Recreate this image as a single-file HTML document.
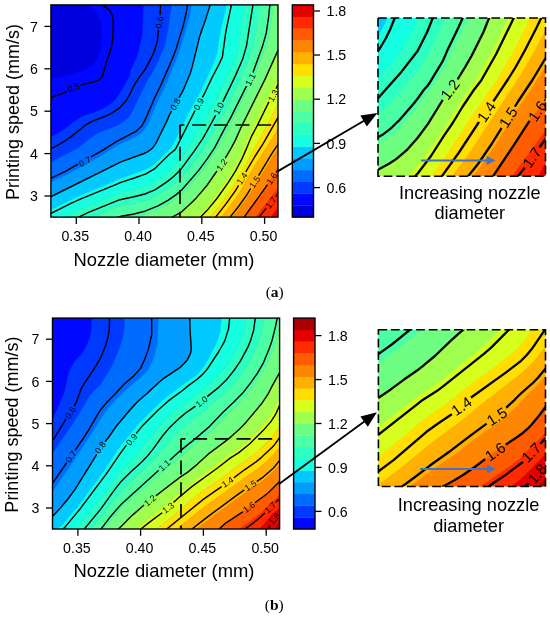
<!DOCTYPE html>
<html><head><meta charset="utf-8"><title>Figure</title><style>html,body{margin:0;padding:0;background:#fff}svg{display:block}</style></head><body>
<svg width="550" height="617" viewBox="0 0 550 617">
<rect width="550" height="617" fill="#fff"/>
<clipPath id="cpa"><rect x="50.9" y="4.9" width="227.1" height="212.2"/></clipPath>
<g clip-path="url(#cpa)" shape-rendering="geometricPrecision">
<rect x="50.9" y="4.9" width="227.1" height="212.2" fill="#0000de"/>
<path d="M50.9,3.9 86.9,3.9 88.9,5.9 93.9,9.6 96.3,11.9 97.7,13.9 100.2,18.9 101.0,20.9 101.7,23.9 102.3,35.9 100.9,47.9 98.7,55.9 97.9,57.9 95.9,60.9 91.9,65.4 89.9,66.9 84.5,69.9 79.9,71.9 62.9,76.6 52.9,78.9 49.9,80.0 49.9,3.9 50.9,3.9Z" fill="#0000de" stroke="#0000de" stroke-width="0.6"/>
<path d="M86.9,3.9 144.0,3.9 142.4,35.9 138.5,52.9 137.1,56.9 131.6,68.9 130.9,70.9 130.2,74.9 128.9,78.3 117.2,97.9 114.7,100.9 107.9,105.9 102.9,108.9 93.6,112.9 83.9,115.9 80.9,117.2 73.9,122.0 63.9,129.9 54.9,135.2 49.9,137.7 49.9,80.0 52.9,78.9 62.9,76.6 79.9,71.9 83.9,70.2 89.8,66.9 93.9,63.4 97.3,58.9 98.7,55.9 100.5,49.9 101.2,45.9 102.3,36.9 101.8,24.9 101.0,20.9 96.9,12.7 94.2,9.9 88.9,5.9 86.9,3.9Z" fill="#0008ff" stroke="#0008ff" stroke-width="0.6"/>
<path d="M144.9,3.9 172.1,3.9 168.6,28.9 166.2,40.9 164.8,45.9 158.6,60.9 153.9,70.1 147.1,81.9 130.7,114.9 129.3,116.9 127.1,118.9 122.9,122.2 116.9,125.9 108.9,129.3 100.9,132.0 97.9,133.5 91.9,137.3 76.9,148.9 49.9,163.0 49.9,137.7 54.9,135.2 63.9,129.9 73.9,122.0 80.9,117.2 83.9,115.9 91.9,113.5 95.9,112.0 103.9,108.4 107.9,105.9 113.5,101.9 115.9,99.6 122.9,88.7 129.1,77.9 130.2,74.9 130.9,70.9 131.6,68.9 137.1,56.9 138.8,51.9 142.4,35.9 144.0,3.9 144.9,3.9Z" fill="#003aff" stroke="#003aff" stroke-width="0.6"/>
<path d="M172.9,3.9 192.4,3.9 190.2,14.9 187.6,24.9 179.8,49.9 176.3,59.9 164.6,87.9 157.6,101.9 149.0,121.9 145.9,127.9 141.9,132.6 139.9,134.4 136.9,136.3 116.9,146.1 100.9,155.9 66.6,174.9 49.9,182.7 49.9,163.0 76.9,148.9 91.9,137.3 97.9,133.5 100.9,132.0 108.9,129.3 116.9,125.9 123.3,121.9 128.3,117.9 130.1,115.9 131.9,112.7 147.1,81.9 153.9,70.1 158.6,60.9 164.8,45.9 166.2,40.9 168.6,28.9 172.1,3.9 172.9,3.9Z" fill="#006cff" stroke="#006cff" stroke-width="0.6"/>
<path d="M192.9,3.9 210.5,3.9 206.1,17.9 199.8,35.9 191.4,69.9 188.4,77.9 182.9,90.9 170.9,112.0 164.2,126.9 157.2,140.9 153.9,146.3 150.5,149.9 145.9,152.6 119.9,162.2 49.9,197.2 49.9,182.7 66.6,174.9 100.9,155.9 116.9,146.1 136.9,136.3 140.9,133.5 144.9,129.3 148.1,123.9 157.6,101.9 164.6,87.9 175.9,61.0 179.5,50.9 187.0,26.9 190.2,14.9 192.4,3.9 192.9,3.9Z" fill="#009cff" stroke="#009cff" stroke-width="0.6"/>
<path d="M210.9,3.9 227.2,3.9 220.5,32.9 216.6,55.9 212.7,65.9 201.0,90.9 189.0,112.9 175.2,140.9 171.7,146.9 154.9,163.6 151.9,166.1 146.9,169.0 140.9,171.7 119.9,178.8 108.7,183.9 76.9,197.1 49.9,210.4 49.9,197.2 119.9,162.2 145.9,152.6 150.5,149.9 153.4,146.9 155.9,143.2 158.2,138.9 165.1,124.9 170.9,112.0 182.9,90.9 188.0,78.9 191.4,69.9 199.9,35.6 206.1,17.9 210.5,3.9 210.9,3.9Z" fill="#00caff" stroke="#00caff" stroke-width="0.6"/>
<path d="M227.9,3.9 245.0,3.9 239.0,43.9 236.5,54.9 234.0,61.9 230.9,69.1 212.9,105.6 196.0,135.9 185.9,151.9 180.9,158.6 173.3,166.9 164.5,174.9 156.9,180.5 149.9,184.4 140.9,187.8 122.9,192.4 116.9,194.3 83.9,207.6 62.7,217.9 49.9,217.9 49.9,210.4 50.9,209.9 76.9,197.1 108.7,183.9 118.9,179.2 141.9,171.3 149.9,167.4 152.9,165.3 155.9,162.7 171.7,146.9 175.2,140.9 189.0,112.9 200.5,91.9 212.3,66.9 215.2,59.9 217.3,52.9 219.5,37.9 221.1,29.9 227.2,3.9 227.9,3.9Z" fill="#14ffe1" stroke="#14ffe1" stroke-width="0.6"/>
<path d="M245.9,3.9 260.0,3.9 258.0,20.9 255.6,34.9 252.8,46.9 248.7,59.9 242.7,74.9 227.9,105.3 222.4,115.9 209.2,139.9 205.9,145.3 200.9,152.6 184.9,173.7 176.9,182.0 168.2,188.9 157.9,195.4 147.9,199.9 138.9,202.5 122.9,205.7 117.9,207.1 108.9,210.5 91.8,217.9 62.7,217.9 83.9,207.6 116.9,194.3 122.9,192.4 140.9,187.8 145.9,186.1 150.9,183.9 157.9,179.8 164.5,174.9 172.9,167.3 179.9,159.8 185.3,152.9 194.1,138.9 208.9,112.9 216.3,98.9 233.2,63.9 236.2,55.9 238.3,47.9 245.0,3.9 245.9,3.9Z" fill="#2dffc3" stroke="#2dffc3" stroke-width="0.6"/>
<path d="M260.9,3.9 273.5,3.9 271.6,19.9 269.8,31.9 268.4,37.9 265.2,47.9 253.5,78.9 247.9,89.4 231.9,121.3 215.9,151.1 208.9,161.5 199.9,173.6 185.0,190.9 178.9,196.5 173.9,200.3 167.9,204.1 159.9,208.6 153.9,211.3 144.9,214.6 131.7,217.9 91.8,217.9 108.9,210.5 117.9,207.1 122.9,205.7 134.9,203.4 142.9,201.5 148.9,199.5 155.9,196.4 164.9,191.1 173.9,184.5 180.9,178.1 187.2,170.9 201.9,151.2 208.6,140.9 225.1,110.9 243.1,73.9 249.0,58.9 253.4,44.9 256.9,27.8 260.0,3.9 260.9,3.9Z" fill="#4bffa5" stroke="#4bffa5" stroke-width="0.6"/>
<path d="M273.9,3.9 278.9,3.9 278.9,48.2 264.3,80.9 241.3,126.9 235.9,139.2 230.7,148.9 221.3,164.9 206.9,185.5 199.1,194.9 188.9,205.3 182.8,210.9 179.9,213.1 170.8,217.9 131.7,217.9 145.9,214.3 156.9,210.0 168.3,203.9 177.9,197.3 184.9,191.0 198.9,174.9 207.2,163.9 213.9,154.3 217.7,147.9 231.6,121.9 254.3,76.9 265.2,47.9 268.7,36.9 270.1,29.9 271.6,19.9 273.2,5.9 273.5,3.9 273.9,3.9Z" fill="#6eff82" stroke="#6eff82" stroke-width="0.6"/>
<path d="M278.9,48.2 278.9,76.2 270.2,93.9 265.8,101.9 255.5,122.9 249.2,134.9 240.2,156.9 234.9,167.3 231.9,172.5 217.9,192.9 209.9,203.1 205.9,207.8 200.9,212.9 195.1,217.9 170.8,217.9 178.9,213.6 181.6,211.9 189.3,204.9 197.3,196.9 206.6,185.9 213.1,176.9 221.9,163.9 230.7,148.9 235.9,139.2 241.3,126.9 264.3,80.9 278.9,48.2Z" fill="#a0ff4e" stroke="#a0ff4e" stroke-width="0.6"/>
<path d="M278.9,76.2 278.9,102.4 262.9,132.9 246.6,162.9 234.1,184.9 229.9,191.5 223.8,199.9 209.6,217.9 195.1,217.9 201.9,211.9 206.9,206.7 210.9,201.9 215.9,195.6 222.9,185.8 232.9,170.9 240.7,155.9 249.2,134.9 255.5,122.9 265.8,101.9 270.2,93.9 278.9,76.2Z" fill="#d7ff1e" stroke="#d7ff1e" stroke-width="0.6"/>
<path d="M278.9,102.4 278.9,127.6 273.3,136.9 257.9,160.9 248.9,175.7 240.1,191.9 235.9,198.2 228.5,207.9 220.6,217.9 209.6,217.9 223.1,200.9 229.6,191.9 233.9,185.3 246.6,162.9 262.9,132.9 278.9,102.4Z" fill="#ffde00" stroke="#ffde00" stroke-width="0.6"/>
<path d="M278.9,127.6 278.9,148.0 273.9,155.4 251.5,191.9 242.4,204.9 232.4,217.9 220.6,217.9 232.4,202.9 238.8,193.9 241.9,188.9 246.5,179.9 249.9,174.1 257.9,160.9 270.3,141.9 278.9,127.6Z" fill="#ffb000" stroke="#ffb000" stroke-width="0.6"/>
<path d="M278.9,148.0 278.9,168.2 258.1,197.9 243.5,217.9 232.4,217.9 241.7,205.9 250.2,193.9 274.2,154.9 278.9,148.0Z" fill="#ff8600" stroke="#ff8600" stroke-width="0.6"/>
<path d="M278.9,168.2 278.9,187.4 255.2,217.9 243.5,217.9 258.1,197.9 278.9,168.2Z" fill="#ff5c00" stroke="#ff5c00" stroke-width="0.6"/>
<path d="M278.9,187.4 278.9,207.7 270.4,217.9 255.2,217.9 278.9,187.4Z" fill="#ff2a00" stroke="#ff2a00" stroke-width="0.6"/>
<path d="M278.9,207.7 278.9,217.9 270.4,217.9 278.9,207.7Z" fill="#e40000" stroke="#e40000" stroke-width="0.6"/>
<mask id="mka" maskUnits="userSpaceOnUse" x="0" y="0" width="550" height="617"><rect x="0" y="0" width="550" height="617" fill="#fff"/><rect x="65.9" y="84.0" width="15.1" height="7.0" fill="#000" transform="rotate(-20.0 73.5 87.5)"/><rect x="151.7" y="19.0" width="15.1" height="7.0" fill="#000" transform="rotate(-80.0 159.3 22.5)"/><rect x="77.4" y="158.0" width="15.1" height="7.0" fill="#000" transform="rotate(-28.0 85.0 161.5)"/><rect x="167.6" y="100.7" width="15.1" height="7.0" fill="#000" transform="rotate(-60.0 175.2 104.2)"/><rect x="191.1" y="100.5" width="15.1" height="7.0" fill="#000" transform="rotate(-60.0 198.7 104.0)"/><rect x="211.0" y="104.8" width="15.1" height="7.0" fill="#000" transform="rotate(-62.0 218.6 108.3)"/><rect x="242.7" y="76.0" width="15.1" height="7.0" fill="#000" transform="rotate(-63.0 250.3 79.5)"/><rect x="214.1" y="161.5" width="15.1" height="7.0" fill="#000" transform="rotate(-55.0 221.7 165.0)"/><rect x="265.4" y="92.0" width="15.1" height="7.0" fill="#000" transform="rotate(-62.0 273.0 95.5)"/><rect x="234.4" y="175.0" width="15.1" height="7.0" fill="#000" transform="rotate(-56.0 242.0 178.5)"/><rect x="247.0" y="178.5" width="15.1" height="7.0" fill="#000" transform="rotate(-56.0 254.6 182.0)"/><rect x="264.2" y="175.0" width="15.1" height="7.0" fill="#000" transform="rotate(-55.0 271.8 178.5)"/><rect x="263.4" y="199.0" width="15.1" height="7.0" fill="#000" transform="rotate(-52.0 271.0 202.5)"/></mask>
<g mask="url(#mka)" fill="none" stroke="#000" stroke-width="1.40" stroke-linejoin="round">
<path d="M49.9,98.5 52.5,96.9 59.9,94.5 64.9,92.3 73.9,87.3 85.9,83.6 92.9,82.1 99.1,79.9 100.9,78.5 102.0,76.9 103.9,71.9 106.1,62.9 110.0,51.9 111.9,44.7 112.6,39.9 113.2,22.9 113.1,19.9 112.5,15.9 110.7,11.9 108.9,9.7 101.4,3.9"/>
<path d="M49.9,149.4 57.9,145.2 65.9,140.3 71.9,136.1 85.9,124.8 91.0,121.9 104.9,116.3 110.9,113.6 113.9,111.7 119.9,107.6 125.9,100.8 129.9,94.3 133.3,86.9 135.6,82.9 140.2,75.9 144.9,69.8 148.7,62.9 153.9,52.5 157.2,41.9 157.5,39.9 160.1,14.9 160.6,3.9"/>
<path d="M49.9,178.7 64.9,171.7 102.9,150.1 115.9,141.8 135.9,131.4 141.9,125.9 145.6,118.9 154.9,97.3 160.1,86.9 172.3,58.9 175.9,49.6 183.2,25.9 186.2,12.9 187.7,3.9"/>
<path d="M49.9,197.2 120.9,161.8 143.9,153.5 146.9,152.1 150.9,149.5 152.6,147.9 154.9,144.8 156.9,141.4 166.9,120.9 169.9,113.9 182.9,90.9 190.4,72.9 191.9,67.9 199.8,35.9 206.1,17.9 210.5,3.9"/>
<path d="M49.9,213.9 70.9,203.3 80.9,198.8 113.9,185.4 120.9,182.3 132.9,178.5 145.9,173.9 154.9,168.6 169.9,153.7 174.9,149.9 175.9,148.4 194.9,110.8 204.9,92.8 211.9,77.9 218.9,64.5 222.4,56.9 225.8,31.9 231.6,3.9"/>
<path d="M77.1,217.9 87.9,212.6 119.9,199.7 133.9,196.8 144.9,194.0 154.9,189.8 166.9,181.9 173.9,176.2 181.2,168.9 194.4,150.9 202.9,138.4 204.9,134.9 221.4,104.9 234.9,76.9 240.2,64.9 243.0,57.9 246.5,45.9 253.1,3.9"/>
<path d="M115.8,217.9 120.9,216.3 132.9,214.2 144.9,211.2 158.1,205.9 167.9,200.3 175.9,194.9 181.9,189.8 198.3,170.9 207.2,158.9 214.6,147.9 223.9,129.9 230.6,117.9 245.1,88.9 251.0,77.9 262.6,45.9 266.3,32.9 268.6,16.9 270.0,3.9"/>
<path d="M170.8,217.9 180.9,212.4 189.9,204.3 196.3,197.9 206.9,185.5 221.9,163.9 231.3,147.9 235.5,139.9 240.9,127.8 265.2,78.9 278.9,48.2"/>
<path d="M199.7,217.9 206.9,210.6 216.9,198.5 228.0,182.9 235.6,170.9 241.9,158.9 246.9,147.6 251.2,136.9 257.6,124.9 268.9,101.9 273.0,94.9 278.9,82.4"/>
<path d="M215.0,217.9 226.0,203.9 235.3,190.9 238.9,184.8 242.2,177.9 254.9,156.5 263.0,143.9 278.9,115.9"/>
<path d="M229.5,217.9 238.9,206.0 246.8,194.9 272.3,152.9 278.9,143.2"/>
<path d="M243.5,217.9 258.1,197.9 278.9,168.2"/>
<path d="M258.5,217.9 278.9,192.3"/>
</g>
<text x="73.5" y="90.7" font-family="Liberation Sans, Arial, sans-serif" font-size="8.8" text-anchor="middle" transform="rotate(-20.0 73.5 87.5)">0.5</text>
<text x="159.3" y="25.7" font-family="Liberation Sans, Arial, sans-serif" font-size="8.8" text-anchor="middle" transform="rotate(-80.0 159.3 22.5)">0.6</text>
<text x="85.0" y="164.7" font-family="Liberation Sans, Arial, sans-serif" font-size="8.8" text-anchor="middle" transform="rotate(-28.0 85.0 161.5)">0.7</text>
<text x="175.2" y="107.4" font-family="Liberation Sans, Arial, sans-serif" font-size="8.8" text-anchor="middle" transform="rotate(-60.0 175.2 104.2)">0.8</text>
<text x="198.7" y="107.2" font-family="Liberation Sans, Arial, sans-serif" font-size="8.8" text-anchor="middle" transform="rotate(-60.0 198.7 104.0)">0.9</text>
<text x="218.6" y="111.5" font-family="Liberation Sans, Arial, sans-serif" font-size="8.8" text-anchor="middle" transform="rotate(-62.0 218.6 108.3)">1.0</text>
<text x="250.3" y="82.7" font-family="Liberation Sans, Arial, sans-serif" font-size="8.8" text-anchor="middle" transform="rotate(-63.0 250.3 79.5)">1.1</text>
<text x="221.7" y="168.2" font-family="Liberation Sans, Arial, sans-serif" font-size="8.8" text-anchor="middle" transform="rotate(-55.0 221.7 165.0)">1.2</text>
<text x="273.0" y="98.7" font-family="Liberation Sans, Arial, sans-serif" font-size="8.8" text-anchor="middle" transform="rotate(-62.0 273.0 95.5)">1.3</text>
<text x="242.0" y="181.7" font-family="Liberation Sans, Arial, sans-serif" font-size="8.8" text-anchor="middle" transform="rotate(-56.0 242.0 178.5)">1.4</text>
<text x="254.6" y="185.2" font-family="Liberation Sans, Arial, sans-serif" font-size="8.8" text-anchor="middle" transform="rotate(-56.0 254.6 182.0)">1.5</text>
<text x="271.8" y="181.7" font-family="Liberation Sans, Arial, sans-serif" font-size="8.8" text-anchor="middle" transform="rotate(-55.0 271.8 178.5)">1.6</text>
<text x="271.0" y="205.7" font-family="Liberation Sans, Arial, sans-serif" font-size="8.8" text-anchor="middle" transform="rotate(-52.0 271.0 202.5)">1.7</text>
<path d="M180.0,125.0H278.0" stroke="#000" stroke-width="1.7" stroke-dasharray="14 7.7" stroke-dashoffset="9.6" fill="none"/>
<path d="M180.0,125.0V217.1" stroke="#000" stroke-width="1.7" stroke-dasharray="14 7.7" fill="none"/>
</g>
<rect x="50.9" y="4.9" width="227.1" height="212.2" fill="none" stroke="#000" stroke-width="1.4"/>
<path d="M44.4,26.4H50.9" stroke="#000" stroke-width="1.3"/>
<text x="37.9" y="31.5" font-family="Liberation Sans, Arial, sans-serif" font-size="14.2" text-anchor="end">7</text>
<path d="M44.4,68.8H50.9" stroke="#000" stroke-width="1.3"/>
<text x="37.9" y="73.9" font-family="Liberation Sans, Arial, sans-serif" font-size="14.2" text-anchor="end">6</text>
<path d="M44.4,111.2H50.9" stroke="#000" stroke-width="1.3"/>
<text x="37.9" y="116.3" font-family="Liberation Sans, Arial, sans-serif" font-size="14.2" text-anchor="end">5</text>
<path d="M44.4,153.6H50.9" stroke="#000" stroke-width="1.3"/>
<text x="37.9" y="158.7" font-family="Liberation Sans, Arial, sans-serif" font-size="14.2" text-anchor="end">4</text>
<path d="M44.4,196.0H50.9" stroke="#000" stroke-width="1.3"/>
<text x="37.9" y="201.1" font-family="Liberation Sans, Arial, sans-serif" font-size="14.2" text-anchor="end">3</text>
<path d="M76.3,217.1V223.9" stroke="#000" stroke-width="1.3"/>
<text x="75.3" y="240.7" font-family="Liberation Sans, Arial, sans-serif" font-size="14.2" text-anchor="middle">0.35</text>
<path d="M139.0,217.1V223.9" stroke="#000" stroke-width="1.3"/>
<text x="138.0" y="240.7" font-family="Liberation Sans, Arial, sans-serif" font-size="14.2" text-anchor="middle">0.40</text>
<path d="M201.8,217.1V223.9" stroke="#000" stroke-width="1.3"/>
<text x="200.8" y="240.7" font-family="Liberation Sans, Arial, sans-serif" font-size="14.2" text-anchor="middle">0.45</text>
<path d="M264.6,217.1V223.9" stroke="#000" stroke-width="1.3"/>
<text x="263.6" y="240.7" font-family="Liberation Sans, Arial, sans-serif" font-size="14.2" text-anchor="middle">0.50</text>
<text x="163.9" y="265.7" font-family="Liberation Sans, Arial, sans-serif" font-size="18.4" text-anchor="middle">Nozzle diameter (mm)</text>
<text x="18.9" y="112.0" font-family="Liberation Sans, Arial, sans-serif" font-size="18" text-anchor="middle" transform="rotate(-90 18.9 112.0)">Printing speed (mm/s)</text>
<rect x="292.3" y="205.31" width="21.2" height="12.09" fill="#0000de"/>
<rect x="292.3" y="193.52" width="21.2" height="12.09" fill="#0008ff"/>
<rect x="292.3" y="181.73" width="21.2" height="12.09" fill="#003aff"/>
<rect x="292.3" y="169.94" width="21.2" height="12.09" fill="#006cff"/>
<rect x="292.3" y="158.16" width="21.2" height="12.09" fill="#009cff"/>
<rect x="292.3" y="146.37" width="21.2" height="12.09" fill="#00caff"/>
<rect x="292.3" y="134.58" width="21.2" height="12.09" fill="#14ffe1"/>
<rect x="292.3" y="122.79" width="21.2" height="12.09" fill="#2dffc3"/>
<rect x="292.3" y="111.00" width="21.2" height="12.09" fill="#4bffa5"/>
<rect x="292.3" y="99.21" width="21.2" height="12.09" fill="#6eff82"/>
<rect x="292.3" y="87.42" width="21.2" height="12.09" fill="#a0ff4e"/>
<rect x="292.3" y="75.63" width="21.2" height="12.09" fill="#d7ff1e"/>
<rect x="292.3" y="63.84" width="21.2" height="12.09" fill="#ffde00"/>
<rect x="292.3" y="52.06" width="21.2" height="12.09" fill="#ffb000"/>
<rect x="292.3" y="40.27" width="21.2" height="12.09" fill="#ff8600"/>
<rect x="292.3" y="28.48" width="21.2" height="12.09" fill="#ff5c00"/>
<rect x="292.3" y="16.69" width="21.2" height="12.09" fill="#ff2a00"/>
<rect x="292.3" y="4.90" width="21.2" height="12.09" fill="#e40000"/>
<rect x="292.3" y="4.9" width="21.2" height="212.2" fill="none" stroke="#000" stroke-width="1.4"/>
<path d="M313.5,11.0H320.0" stroke="#000" stroke-width="1.3"/>
<text x="326.5" y="16.1" font-family="Liberation Sans, Arial, sans-serif" font-size="14.2">1.8</text>
<path d="M313.5,55.0H320.0" stroke="#000" stroke-width="1.3"/>
<text x="326.5" y="60.1" font-family="Liberation Sans, Arial, sans-serif" font-size="14.2">1.5</text>
<path d="M313.5,99.2H320.0" stroke="#000" stroke-width="1.3"/>
<text x="326.5" y="104.3" font-family="Liberation Sans, Arial, sans-serif" font-size="14.2">1.2</text>
<path d="M313.5,143.4H320.0" stroke="#000" stroke-width="1.3"/>
<text x="326.5" y="148.5" font-family="Liberation Sans, Arial, sans-serif" font-size="14.2">0.9</text>
<path d="M313.5,187.6H320.0" stroke="#000" stroke-width="1.3"/>
<text x="326.5" y="192.7" font-family="Liberation Sans, Arial, sans-serif" font-size="14.2">0.6</text>
<clipPath id="cia"><rect x="378.0" y="18.0" width="167.5" height="158.2"/></clipPath>
<g clip-path="url(#cia)">
<rect x="378.0" y="18.0" width="167.5" height="158.2" fill="#14ffe1"/>
<path d="M377.0,16.0 388.6,16.0 386.0,21.9 376.0,40.8 376.0,16.0 377.0,16.0Z" fill="#00caff" stroke="#00caff" stroke-width="0.6"/>
<path d="M389.0,16.0 419.5,16.0 410.5,36.0 407.4,42.0 403.8,48.0 397.5,57.0 391.3,65.0 376.0,82.2 376.0,40.8 386.0,21.9 388.6,16.0 389.0,16.0Z" fill="#14ffe1" stroke="#14ffe1" stroke-width="0.6"/>
<path d="M420.0,16.0 446.0,16.0 438.8,33.0 430.5,51.0 426.7,58.0 422.1,65.0 412.3,78.0 397.0,96.2 385.2,109.0 376.0,117.2 376.0,82.2 391.0,65.3 397.5,57.0 403.1,49.0 409.0,39.0 414.0,28.6 419.5,16.0 420.0,16.0Z" fill="#2dffc3" stroke="#2dffc3" stroke-width="0.6"/>
<path d="M446.0,16.1 469.2,16.0 463.5,29.0 453.6,49.0 446.6,64.0 440.6,74.0 432.2,87.0 426.8,94.0 418.0,106.4 407.0,119.9 399.5,128.0 392.0,134.8 386.0,139.2 376.0,145.1 376.0,117.2 385.2,109.0 396.3,97.0 412.0,78.4 422.0,65.2 426.7,58.0 430.5,51.0 438.8,33.0 446.0,16.1Z" fill="#4bffa5" stroke="#4bffa5" stroke-width="0.6"/>
<path d="M469.0,16.6 469.2,16.0 489.9,16.0 485.2,28.0 482.5,34.0 472.0,55.0 463.4,70.0 457.0,80.3 443.3,99.0 428.0,123.9 415.0,141.0 406.0,150.8 397.0,158.4 388.5,164.0 376.0,170.8 376.0,145.1 389.1,137.0 395.0,132.2 401.0,126.5 407.8,119.0 415.0,110.2 421.0,102.3 426.8,94.0 432.0,87.3 441.3,73.0 447.1,63.0 453.6,49.0 463.9,28.0 469.0,16.6Z" fill="#6eff82" stroke="#6eff82" stroke-width="0.6"/>
<path d="M490.0,16.0 509.5,16.0 502.7,31.0 492.9,51.0 479.0,76.0 476.4,80.0 469.6,89.0 460.0,103.1 447.2,124.0 428.0,152.9 415.0,169.5 411.0,173.7 406.0,178.0 376.0,178.0 376.0,170.8 387.0,164.9 393.3,161.0 397.5,158.0 404.0,152.6 408.0,148.8 416.0,139.9 427.0,125.3 434.0,114.5 443.3,99.0 457.2,80.0 466.3,65.0 472.5,54.0 483.0,33.0 490.0,16.0Z" fill="#a0ff4e" stroke="#a0ff4e" stroke-width="0.6"/>
<path d="M510.0,16.0 531.2,16.0 521.5,36.0 511.1,56.0 504.9,67.0 495.7,82.0 472.1,116.0 446.7,155.0 430.4,178.0 406.0,178.0 411.0,173.7 415.0,169.5 427.9,153.0 447.2,124.0 460.1,103.0 470.0,88.4 478.0,77.6 491.9,53.0 502.7,31.0 509.5,16.0 510.0,16.0Z" fill="#d7ff1e" stroke="#d7ff1e" stroke-width="0.6"/>
<path d="M531.0,16.3 531.2,16.0 547.0,16.0 547.0,27.9 536.4,48.0 521.4,74.0 494.0,116.3 471.7,150.0 464.6,160.0 450.8,178.0 430.4,178.0 446.7,155.0 472.0,116.2 493.0,86.0 498.2,78.0 506.0,65.0 512.1,54.0 522.0,35.0 531.0,16.3Z" fill="#ffde00" stroke="#ffde00" stroke-width="0.6"/>
<path d="M547.0,27.9 547.0,64.2 535.5,83.0 518.0,109.1 498.3,141.0 490.0,153.6 480.8,167.0 472.0,178.0 450.8,178.0 464.6,160.0 471.7,150.0 518.9,78.0 525.0,68.0 534.2,52.0 547.0,27.9Z" fill="#ffb000" stroke="#ffb000" stroke-width="0.6"/>
<path d="M547.0,64.2 547.0,97.8 538.8,109.0 529.0,121.5 514.6,144.0 491.9,178.0 472.0,178.0 481.5,166.0 494.0,147.6 518.0,109.1 536.2,82.0 547.0,64.2Z" fill="#ff8600" stroke="#ff8600" stroke-width="0.6"/>
<path d="M547.0,97.8 547.0,128.5 536.1,144.0 515.0,172.3 511.1,178.0 491.9,178.0 514.6,144.0 529.0,121.5 538.8,109.0 547.0,97.8Z" fill="#ff5c00" stroke="#ff5c00" stroke-width="0.6"/>
<path d="M547.0,128.5 547.0,160.7 538.5,176.0 537.0,178.0 511.1,178.0 515.0,172.3 536.1,144.0 547.0,128.5Z" fill="#ff2a00" stroke="#ff2a00" stroke-width="0.6"/>
<path d="M547.0,160.7 547.0,178.0 537.0,178.0 539.2,175.0 544.4,165.0 547.0,160.7Z" fill="#e40000" stroke="#e40000" stroke-width="0.6"/>
<mask id="mia" maskUnits="userSpaceOnUse" x="0" y="0" width="550" height="617"><rect x="0" y="0" width="550" height="617" fill="#fff"/><rect x="437.4" y="83.5" width="25.2" height="12.0" fill="#000" transform="rotate(-53.0 450.0 89.5)"/><rect x="473.8" y="105.8" width="25.2" height="12.0" fill="#000" transform="rotate(-56.0 486.4 111.8)"/><rect x="495.6" y="111.3" width="25.2" height="12.0" fill="#000" transform="rotate(-57.0 508.2 117.3)"/><rect x="524.7" y="105.0" width="25.2" height="12.0" fill="#000" transform="rotate(-56.0 537.3 111.0)"/><rect x="519.2" y="151.3" width="25.2" height="12.0" fill="#000" transform="rotate(-55.0 531.8 157.3)"/></mask>
<g mask="url(#mia)" fill="none" stroke="#000" stroke-width="2.30" stroke-linejoin="round">
<path d="M376.0,53.8 380.1,48.0 386.0,38.0 390.3,29.0 395.6,16.0"/>
<path d="M376.0,100.5 400.0,73.6 417.6,51.0 427.2,32.0 433.6,16.0"/>
<path d="M376.0,138.4 383.0,134.4 388.0,130.7 392.0,127.3 399.5,120.0 414.2,103.0 418.1,98.0 423.7,90.0 427.4,86.0 429.0,83.8 443.0,60.6 448.0,48.9 458.2,28.0 463.6,16.0"/>
<path d="M376.0,170.8 389.0,163.7 394.0,160.6 397.0,158.4 405.0,151.7 408.0,148.8 417.5,138.0 428.0,123.9 443.3,99.0 457.2,80.0 465.2,67.0 471.5,56.0 483.5,32.0 489.9,16.0"/>
<path d="M413.4,178.0 418.1,173.0 431.0,156.0 444.0,135.7 452.7,123.0 462.4,107.0 473.8,90.0 481.0,80.8 496.2,54.0 514.7,16.0"/>
<path d="M440.6,178.0 458.6,153.0 480.3,120.0 488.0,109.3 508.2,79.0 515.1,68.0 525.1,50.0 536.4,28.0 542.1,16.0"/>
<path d="M466.6,178.0 478.0,164.0 492.3,143.0 518.4,101.0 532.4,80.0 547.0,55.7"/>
<path d="M491.9,178.0 515.0,143.4 530.0,120.1 538.8,109.0 547.0,97.8"/>
<path d="M516.5,178.0 525.0,167.4 531.4,158.0 539.8,147.0 547.0,136.8"/>
</g>
<text x="450.0" y="94.9" font-family="Liberation Sans, Arial, sans-serif" font-size="15.0" text-anchor="middle" transform="rotate(-53.0 450.0 89.5)">1.2</text>
<text x="486.4" y="117.2" font-family="Liberation Sans, Arial, sans-serif" font-size="15.0" text-anchor="middle" transform="rotate(-56.0 486.4 111.8)">1.4</text>
<text x="508.2" y="122.7" font-family="Liberation Sans, Arial, sans-serif" font-size="15.0" text-anchor="middle" transform="rotate(-57.0 508.2 117.3)">1.5</text>
<text x="537.3" y="116.4" font-family="Liberation Sans, Arial, sans-serif" font-size="15.0" text-anchor="middle" transform="rotate(-56.0 537.3 111.0)">1.6</text>
<text x="531.8" y="162.7" font-family="Liberation Sans, Arial, sans-serif" font-size="15.0" text-anchor="middle" transform="rotate(-55.0 531.8 157.3)">1.7</text>
</g>
<rect x="378.0" y="18.0" width="167.5" height="158.2" fill="none" stroke="#000" stroke-width="1.6" stroke-dasharray="8.7 3.9" stroke-dashoffset="0"/>
<path d="M421.0,160.5H489.5" stroke="#4472c4" stroke-width="2.1" fill="none"/>
<path d="M495.5,160.5L486.5,155.9L486.5,165.1Z" fill="#4472c4"/>
<path d="M277.6,171.4L365.3,120.0" stroke="#000" stroke-width="1.8" fill="none"/>
<path d="M377.4,112.9L366.8,126.4L360.4,115.6Z" fill="#000"/>
<text x="469.8" y="198.5" font-family="Liberation Sans, Arial, sans-serif" font-size="18.2" text-anchor="middle">Increasing nozzle</text>
<text x="469.8" y="218.9" font-family="Liberation Sans, Arial, sans-serif" font-size="18.2" text-anchor="middle">diameter</text>
<text x="274.7" y="296.8" font-family="Liberation Serif, Times New Roman, serif" font-size="15.5" text-anchor="middle">(<tspan font-weight="bold">a</tspan>)</text>
<clipPath id="cpb"><rect x="52.5" y="318.1" width="227.1" height="210.9"/></clipPath>
<g clip-path="url(#cpb)" shape-rendering="geometricPrecision">
<rect x="52.5" y="318.1" width="227.1" height="210.9" fill="#0008ff"/>
<path d="M52.5,317.1 92.2,317.1 92.2,318.1 91.4,332.1 90.7,335.1 88.4,342.1 86.6,346.1 82.7,353.1 74.4,362.1 70.0,370.1 68.5,374.1 65.5,389.1 63.9,394.1 58.4,407.1 51.5,422.4 51.5,317.1 52.5,317.1Z" fill="#0008ff" stroke="#0008ff" stroke-width="0.6"/>
<path d="M92.5,317.1 125.1,317.1 124.1,332.1 121.5,343.1 114.8,360.1 111.8,367.1 109.5,371.1 100.2,385.1 94.5,390.6 89.5,396.4 81.7,410.1 72.2,425.1 62.8,439.1 51.5,455.0 51.5,422.4 58.4,407.1 63.9,394.1 65.5,389.1 68.5,374.1 70.0,370.1 74.4,362.1 82.7,353.1 86.6,346.1 88.4,342.1 90.7,335.1 91.4,332.1 92.2,317.1 92.5,317.1Z" fill="#003aff" stroke="#003aff" stroke-width="0.6"/>
<path d="M125.5,317.1 158.7,317.1 157.7,343.1 156.7,348.1 153.7,359.1 149.4,368.1 146.5,372.1 138.2,380.1 124.5,391.1 111.2,405.1 105.4,412.1 102.0,417.1 91.5,434.1 72.5,463.0 51.5,493.5 51.5,455.0 62.8,439.1 72.2,425.1 81.7,410.1 89.5,396.4 94.5,390.6 98.4,387.1 100.5,384.7 111.3,368.1 116.1,357.1 120.5,346.1 121.8,342.1 124.0,333.1 125.1,317.1 125.5,317.1Z" fill="#006cff" stroke="#006cff" stroke-width="0.6"/>
<path d="M159.5,317.1 189.7,317.1 190.2,333.1 191.1,343.1 191.3,349.1 190.6,353.1 188.5,357.8 186.4,361.1 180.6,367.1 164.5,377.8 161.5,380.2 146.5,393.9 138.5,400.7 129.8,410.1 115.6,427.1 107.5,438.8 100.6,447.1 94.6,458.1 73.5,491.6 65.5,502.1 57.5,511.4 51.5,517.6 51.5,493.5 72.5,463.0 92.2,433.1 102.5,416.3 106.2,411.1 111.2,405.1 123.5,392.1 140.4,378.1 146.5,372.1 149.4,368.1 154.1,358.1 157.2,346.1 157.8,341.1 158.7,317.1 159.5,317.1Z" fill="#009cff" stroke="#009cff" stroke-width="0.6"/>
<path d="M190.5,317.1 221.7,317.1 220.9,330.1 217.2,342.1 211.4,354.1 204.5,366.1 200.5,371.5 197.9,374.1 166.5,397.3 155.4,407.1 140.5,421.9 127.5,437.3 121.5,444.8 115.7,453.1 102.6,473.1 75.1,510.1 63.5,523.8 59.5,527.8 56.7,530.1 51.5,530.1 51.5,517.6 57.5,511.4 65.5,502.1 73.8,491.1 95.2,457.1 100.5,447.3 107.5,438.8 116.4,426.1 130.5,409.3 138.5,400.7 146.5,393.9 162.5,379.4 180.6,367.1 185.5,362.1 187.5,359.5 189.8,355.1 191.2,350.1 191.1,343.1 190.2,333.1 189.7,319.1 189.7,317.1 190.5,317.1Z" fill="#00caff" stroke="#00caff" stroke-width="0.6"/>
<path d="M222.5,317.1 246.2,317.1 245.5,324.1 244.4,330.1 242.8,336.1 240.6,342.1 237.8,348.1 234.4,354.1 230.5,360.1 225.4,367.1 218.8,375.1 211.7,382.1 192.5,397.7 176.0,410.1 168.5,416.8 161.3,424.1 154.5,432.1 140.7,450.1 124.5,467.7 115.5,478.1 95.9,505.1 75.2,530.1 56.7,530.1 62.5,524.9 77.5,507.1 102.6,473.1 115.7,453.1 121.5,444.8 139.5,423.0 154.4,408.1 165.5,398.1 186.9,382.1 195.5,376.1 199.0,373.1 200.9,371.1 205.1,365.1 209.7,357.1 217.2,342.1 220.7,331.1 221.7,317.1 222.5,317.1Z" fill="#14ffe1" stroke="#14ffe1" stroke-width="0.6"/>
<path d="M246.5,317.1 264.4,317.1 262.6,328.1 261.0,335.1 258.8,342.1 255.7,350.1 252.4,357.1 247.8,365.1 243.1,372.1 237.5,379.6 231.5,386.5 224.5,393.3 202.5,412.6 185.5,426.0 174.5,436.2 168.5,442.9 158.4,455.1 152.9,461.1 145.5,468.3 127.5,485.0 121.5,491.3 113.5,500.7 90.5,530.1 75.2,530.1 95.9,505.1 115.5,478.1 124.5,467.7 140.7,450.1 154.5,432.1 161.3,424.1 168.5,416.8 176.0,410.1 192.5,397.7 211.5,382.3 217.8,376.1 223.5,369.5 228.5,363.0 233.1,356.1 237.2,349.1 240.1,343.1 242.5,337.1 244.2,331.1 245.4,325.1 246.2,317.1 246.5,317.1Z" fill="#2dffc3" stroke="#2dffc3" stroke-width="0.6"/>
<path d="M264.5,317.1 280.5,317.1 280.5,323.3 275.4,343.1 271.4,354.1 267.5,363.4 264.5,369.2 259.5,377.6 253.5,386.4 247.5,394.1 239.5,402.9 211.6,431.1 159.5,474.4 122.7,507.1 118.5,511.4 111.5,519.5 103.4,530.1 90.5,530.1 113.5,500.7 121.5,491.3 127.5,485.0 145.5,468.3 152.9,461.1 158.4,455.1 168.5,442.9 174.5,436.2 185.5,426.0 202.5,412.6 224.5,393.3 231.5,386.5 237.1,380.1 242.5,373.0 247.8,365.1 252.4,357.1 255.7,350.1 258.8,342.1 261.0,335.1 262.4,329.1 264.5,317.1Z" fill="#4bffa5" stroke="#4bffa5" stroke-width="0.6"/>
<path d="M280.5,323.3 280.5,371.2 272.5,385.3 267.5,395.1 261.3,404.1 247.5,420.6 239.5,428.9 230.6,437.1 208.5,453.9 196.5,465.0 189.2,471.1 179.5,477.6 168.5,486.2 151.5,498.9 142.5,506.2 130.4,517.1 117.5,530.1 103.4,530.1 111.5,519.5 118.5,511.4 122.7,507.1 159.5,474.4 211.6,431.1 217.8,425.1 226.5,415.8 237.5,405.0 245.9,396.1 252.5,387.7 258.5,379.1 262.8,372.1 267.2,364.1 271.4,354.1 275.4,343.1 280.5,323.3Z" fill="#6eff82" stroke="#6eff82" stroke-width="0.6"/>
<path d="M280.5,371.2 280.5,397.4 277.2,403.1 272.5,412.8 268.5,418.9 262.4,426.1 251.7,437.1 245.3,443.1 239.2,448.1 227.5,456.0 187.9,486.1 175.9,496.1 161.5,508.9 141.5,524.2 134.8,530.1 117.5,530.1 130.5,517.0 143.5,505.4 151.5,498.9 168.5,486.2 179.5,477.6 188.5,471.7 196.5,465.0 208.5,453.9 229.5,438.0 239.5,428.9 247.1,421.1 262.5,402.4 268.1,394.1 272.5,385.3 280.5,371.2Z" fill="#a0ff4e" stroke="#a0ff4e" stroke-width="0.6"/>
<path d="M280.5,397.4 280.5,424.9 276.5,430.8 270.5,438.8 266.6,443.1 262.5,447.1 255.6,453.1 249.3,458.1 237.7,466.1 224.5,476.0 198.5,494.1 187.5,503.2 170.6,518.1 155.2,530.1 134.8,530.1 141.5,524.2 161.5,508.9 177.0,495.1 189.2,485.1 227.5,456.0 238.5,448.7 246.5,442.0 258.5,430.3 267.5,420.2 272.5,412.8 277.2,403.1 280.5,397.4Z" fill="#d7ff1e" stroke="#d7ff1e" stroke-width="0.6"/>
<path d="M280.5,424.9 280.5,446.6 270.5,457.8 262.7,465.1 256.5,469.9 245.5,477.3 205.5,506.2 193.5,515.5 175.6,530.1 155.2,530.1 170.6,518.1 187.5,503.2 198.5,494.1 225.5,475.2 237.7,466.1 249.3,458.1 255.6,453.1 263.5,446.2 268.5,441.1 274.5,433.6 280.5,424.9Z" fill="#ffde00" stroke="#ffde00" stroke-width="0.6"/>
<path d="M280.5,446.6 280.5,463.9 277.2,468.1 274.5,471.0 263.5,480.8 237.5,498.8 215.2,515.1 195.8,530.1 175.6,530.1 193.5,515.5 205.5,506.2 245.5,477.3 260.5,466.9 269.5,458.8 276.5,451.4 280.5,446.6Z" fill="#ffb000" stroke="#ffb000" stroke-width="0.6"/>
<path d="M280.5,463.9 280.5,480.5 268.5,492.5 265.5,495.0 242.3,512.1 225.7,523.1 217.8,530.1 195.8,530.1 215.2,515.1 237.5,498.8 263.5,480.8 274.5,471.0 277.2,468.1 280.5,463.9Z" fill="#ff8600" stroke="#ff8600" stroke-width="0.6"/>
<path d="M280.5,480.5 280.5,494.7 269.3,505.1 263.3,511.1 256.5,516.9 238.4,530.1 217.8,530.1 225.7,523.1 242.3,512.1 265.5,495.0 268.5,492.5 280.5,480.5Z" fill="#ff5c00" stroke="#ff5c00" stroke-width="0.6"/>
<path d="M280.5,494.7 280.5,507.0 272.5,514.1 264.5,523.9 258.4,530.1 238.4,530.1 251.5,520.7 259.5,514.4 280.5,494.7Z" fill="#ff2a00" stroke="#ff2a00" stroke-width="0.6"/>
<path d="M280.5,507.0 280.5,521.0 274.6,530.1 258.4,530.1 264.5,523.9 272.5,514.1 280.5,507.0Z" fill="#e40000" stroke="#e40000" stroke-width="0.6"/>
<path d="M280.5,521.0 280.5,530.1 274.6,530.1 280.5,521.0Z" fill="#ac0000" stroke="#ac0000" stroke-width="0.6"/>
<mask id="mkb" maskUnits="userSpaceOnUse" x="0" y="0" width="550" height="617"><rect x="0" y="0" width="550" height="617" fill="#fff"/><rect x="62.8" y="409.1" width="15.1" height="7.0" fill="#000" transform="rotate(-58.0 70.4 412.6)"/><rect x="63.4" y="452.8" width="15.1" height="7.0" fill="#000" transform="rotate(-55.0 71.0 456.3)"/><rect x="92.6" y="444.0" width="15.1" height="7.0" fill="#000" transform="rotate(-55.0 100.2 447.5)"/><rect x="123.9" y="436.0" width="15.1" height="7.0" fill="#000" transform="rotate(-50.0 131.5 439.5)"/><rect x="193.9" y="398.0" width="15.1" height="7.0" fill="#000" transform="rotate(-38.0 201.5 401.5)"/><rect x="156.7" y="461.7" width="15.1" height="7.0" fill="#000" transform="rotate(-42.0 164.3 465.2)"/><rect x="142.4" y="496.8" width="15.1" height="7.0" fill="#000" transform="rotate(-40.0 150.0 500.3)"/><rect x="160.4" y="504.2" width="15.1" height="7.0" fill="#000" transform="rotate(-38.0 168.0 507.7)"/><rect x="220.0" y="478.5" width="15.1" height="7.0" fill="#000" transform="rotate(-33.0 227.6 482.0)"/><rect x="242.9" y="482.1" width="15.1" height="7.0" fill="#000" transform="rotate(-33.0 250.5 485.6)"/><rect x="241.4" y="503.7" width="15.1" height="7.0" fill="#000" transform="rotate(-35.0 249.0 507.2)"/><rect x="262.7" y="504.0" width="15.1" height="7.0" fill="#000" transform="rotate(-42.0 270.3 507.5)"/><rect x="266.7" y="515.1" width="15.1" height="7.0" fill="#000" transform="rotate(-48.0 274.3 518.6)"/></mask>
<g mask="url(#mkb)" fill="none" stroke="#000" stroke-width="1.40" stroke-linejoin="round">
<path d="M51.5,442.1 54.5,437.9 64.7,421.1 74.5,405.9 77.6,399.1 80.7,390.1 82.0,387.1 95.8,366.1 101.0,357.1 105.5,346.1 108.0,337.1 109.2,330.1 109.6,317.1"/>
<path d="M51.5,484.9 83.5,438.0 88.6,430.1 99.5,411.4 101.5,408.8 106.2,403.1 116.5,392.5 123.5,384.8 133.5,376.1 140.7,368.1 145.5,357.4 147.6,351.1 149.2,346.1 151.8,334.1 151.6,317.1"/>
<path d="M51.5,517.6 59.5,509.1 67.5,499.5 75.2,489.1 96.5,454.9 100.6,447.1 108.5,437.5 115.6,427.1 129.5,410.5 137.5,401.7 147.5,393.0 158.5,382.8 164.5,377.8 180.6,367.1 186.5,360.9 187.8,359.1 190.6,353.1 191.3,349.1 190.1,330.1 189.7,317.1"/>
<path d="M62.1,530.1 65.0,527.1 79.9,509.1 106.5,473.7 119.8,454.1 125.6,446.1 142.2,426.1 158.2,410.1 169.4,400.1 182.5,390.5 189.0,385.1 196.5,379.8 201.5,375.4 205.6,371.1 207.9,368.1 218.5,352.0 224.7,341.1 228.5,328.9 229.8,317.1"/>
<path d="M83.4,530.1 100.7,509.1 114.3,490.1 120.6,482.1 130.7,472.1 141.7,462.1 146.5,457.1 152.5,449.9 162.5,436.0 169.1,428.1 179.6,418.1 186.5,412.3 199.8,403.1 206.5,397.1 219.0,387.1 226.5,379.7 228.7,377.1 234.5,369.8 240.5,360.8 247.5,347.9 250.5,340.8 253.7,330.1 255.4,317.1"/>
<path d="M100.2,530.1 109.5,517.8 120.5,505.1 179.9,451.1 197.5,436.9 209.9,426.1 223.5,411.8 233.9,402.1 242.7,393.1 251.2,382.1 257.5,373.1 263.5,362.6 268.7,350.1 271.9,341.1 275.5,326.6 277.5,317.1"/>
<path d="M117.5,530.1 132.5,515.1 145.5,503.7 180.5,476.9 187.5,472.4 197.5,464.1 209.5,453.1 225.6,441.1 231.8,436.1 239.5,428.9 245.5,422.9 261.5,403.8 268.5,393.3 272.6,385.1 280.5,371.2"/>
<path d="M139.5,530.1 149.6,522.1 162.5,512.5 180.5,496.1 191.5,486.9 217.5,468.0 230.5,457.9 238.5,452.9 249.5,444.0 262.6,431.1 270.5,422.1 274.5,416.1 276.2,413.1 280.5,403.4"/>
<path d="M165.5,530.1 203.6,499.1 229.5,481.1 244.5,469.8 255.7,462.1 261.8,457.1 272.5,447.0 275.0,444.1 280.5,436.2"/>
<path d="M190.6,530.1 207.2,517.1 238.3,494.1 263.5,476.8 273.5,468.0 280.5,459.4"/>
<path d="M217.8,530.1 225.7,523.1 242.3,512.1 265.5,495.0 268.5,492.5 280.5,480.5"/>
<path d="M243.6,530.1 252.5,523.6 259.5,518.0 264.8,513.1 270.5,507.0 280.5,497.9"/>
<path d="M266.7,530.1 269.8,526.1 272.7,521.1 274.5,518.5 276.8,516.1 280.5,513.0"/>
</g>
<text x="70.4" y="415.8" font-family="Liberation Sans, Arial, sans-serif" font-size="8.8" text-anchor="middle" transform="rotate(-58.0 70.4 412.6)">0.6</text>
<text x="71.0" y="459.5" font-family="Liberation Sans, Arial, sans-serif" font-size="8.8" text-anchor="middle" transform="rotate(-55.0 71.0 456.3)">0.7</text>
<text x="100.2" y="450.7" font-family="Liberation Sans, Arial, sans-serif" font-size="8.8" text-anchor="middle" transform="rotate(-55.0 100.2 447.5)">0.8</text>
<text x="131.5" y="442.7" font-family="Liberation Sans, Arial, sans-serif" font-size="8.8" text-anchor="middle" transform="rotate(-50.0 131.5 439.5)">0.9</text>
<text x="201.5" y="404.7" font-family="Liberation Sans, Arial, sans-serif" font-size="8.8" text-anchor="middle" transform="rotate(-38.0 201.5 401.5)">1.0</text>
<text x="164.3" y="468.4" font-family="Liberation Sans, Arial, sans-serif" font-size="8.8" text-anchor="middle" transform="rotate(-42.0 164.3 465.2)">1.1</text>
<text x="150.0" y="503.5" font-family="Liberation Sans, Arial, sans-serif" font-size="8.8" text-anchor="middle" transform="rotate(-40.0 150.0 500.3)">1.2</text>
<text x="168.0" y="510.9" font-family="Liberation Sans, Arial, sans-serif" font-size="8.8" text-anchor="middle" transform="rotate(-38.0 168.0 507.7)">1.3</text>
<text x="227.6" y="485.2" font-family="Liberation Sans, Arial, sans-serif" font-size="8.8" text-anchor="middle" transform="rotate(-33.0 227.6 482.0)">1.4</text>
<text x="250.5" y="488.8" font-family="Liberation Sans, Arial, sans-serif" font-size="8.8" text-anchor="middle" transform="rotate(-33.0 250.5 485.6)">1.5</text>
<text x="249.0" y="510.4" font-family="Liberation Sans, Arial, sans-serif" font-size="8.8" text-anchor="middle" transform="rotate(-35.0 249.0 507.2)">1.6</text>
<text x="270.3" y="510.7" font-family="Liberation Sans, Arial, sans-serif" font-size="8.8" text-anchor="middle" transform="rotate(-42.0 270.3 507.5)">1.7</text>
<text x="274.3" y="521.8" font-family="Liberation Sans, Arial, sans-serif" font-size="8.8" text-anchor="middle" transform="rotate(-48.0 274.3 518.6)">1.8</text>
<path d="M181.0,438.8H279.6" stroke="#000" stroke-width="1.7" stroke-dasharray="14 7.7" stroke-dashoffset="9.6" fill="none"/>
<path d="M181.0,438.8V529.0" stroke="#000" stroke-width="1.7" stroke-dasharray="14 7.7" fill="none"/>
</g>
<rect x="52.5" y="318.1" width="227.1" height="210.9" fill="none" stroke="#000" stroke-width="1.4"/>
<path d="M46.0,339.2H52.5" stroke="#000" stroke-width="1.3"/>
<text x="39.5" y="344.3" font-family="Liberation Sans, Arial, sans-serif" font-size="14.2" text-anchor="end">7</text>
<path d="M46.0,381.4H52.5" stroke="#000" stroke-width="1.3"/>
<text x="39.5" y="386.5" font-family="Liberation Sans, Arial, sans-serif" font-size="14.2" text-anchor="end">6</text>
<path d="M46.0,423.6H52.5" stroke="#000" stroke-width="1.3"/>
<text x="39.5" y="428.7" font-family="Liberation Sans, Arial, sans-serif" font-size="14.2" text-anchor="end">5</text>
<path d="M46.0,465.8H52.5" stroke="#000" stroke-width="1.3"/>
<text x="39.5" y="470.9" font-family="Liberation Sans, Arial, sans-serif" font-size="14.2" text-anchor="end">4</text>
<path d="M46.0,508.0H52.5" stroke="#000" stroke-width="1.3"/>
<text x="39.5" y="513.1" font-family="Liberation Sans, Arial, sans-serif" font-size="14.2" text-anchor="end">3</text>
<path d="M77.9,529.0V535.8" stroke="#000" stroke-width="1.3"/>
<text x="76.9" y="552.6" font-family="Liberation Sans, Arial, sans-serif" font-size="14.2" text-anchor="middle">0.35</text>
<path d="M140.6,529.0V535.8" stroke="#000" stroke-width="1.3"/>
<text x="139.6" y="552.6" font-family="Liberation Sans, Arial, sans-serif" font-size="14.2" text-anchor="middle">0.40</text>
<path d="M203.4,529.0V535.8" stroke="#000" stroke-width="1.3"/>
<text x="202.4" y="552.6" font-family="Liberation Sans, Arial, sans-serif" font-size="14.2" text-anchor="middle">0.45</text>
<path d="M266.2,529.0V535.8" stroke="#000" stroke-width="1.3"/>
<text x="265.2" y="552.6" font-family="Liberation Sans, Arial, sans-serif" font-size="14.2" text-anchor="middle">0.50</text>
<text x="164.0" y="577.2" font-family="Liberation Sans, Arial, sans-serif" font-size="18.4" text-anchor="middle">Nozzle diameter (mm)</text>
<text x="17.9" y="424.6" font-family="Liberation Sans, Arial, sans-serif" font-size="18" text-anchor="middle" transform="rotate(-90 17.9 424.6)">Printing speed (mm/s)</text>
<rect x="293.6" y="517.28" width="21.4" height="12.02" fill="#0008ff"/>
<rect x="293.6" y="505.57" width="21.4" height="12.02" fill="#003aff"/>
<rect x="293.6" y="493.85" width="21.4" height="12.02" fill="#006cff"/>
<rect x="293.6" y="482.13" width="21.4" height="12.02" fill="#009cff"/>
<rect x="293.6" y="470.42" width="21.4" height="12.02" fill="#00caff"/>
<rect x="293.6" y="458.70" width="21.4" height="12.02" fill="#14ffe1"/>
<rect x="293.6" y="446.98" width="21.4" height="12.02" fill="#2dffc3"/>
<rect x="293.6" y="435.27" width="21.4" height="12.02" fill="#4bffa5"/>
<rect x="293.6" y="423.55" width="21.4" height="12.02" fill="#6eff82"/>
<rect x="293.6" y="411.83" width="21.4" height="12.02" fill="#a0ff4e"/>
<rect x="293.6" y="400.12" width="21.4" height="12.02" fill="#d7ff1e"/>
<rect x="293.6" y="388.40" width="21.4" height="12.02" fill="#ffde00"/>
<rect x="293.6" y="376.68" width="21.4" height="12.02" fill="#ffb000"/>
<rect x="293.6" y="364.97" width="21.4" height="12.02" fill="#ff8600"/>
<rect x="293.6" y="353.25" width="21.4" height="12.02" fill="#ff5c00"/>
<rect x="293.6" y="341.53" width="21.4" height="12.02" fill="#ff2a00"/>
<rect x="293.6" y="329.82" width="21.4" height="12.02" fill="#e40000"/>
<rect x="293.6" y="318.10" width="21.4" height="12.02" fill="#ac0000"/>
<rect x="293.6" y="318.1" width="21.4" height="210.9" fill="none" stroke="#000" stroke-width="1.4"/>
<path d="M315.0,335.6H321.5" stroke="#000" stroke-width="1.3"/>
<text x="328.0" y="340.7" font-family="Liberation Sans, Arial, sans-serif" font-size="14.2">1.8</text>
<path d="M315.0,379.6H321.5" stroke="#000" stroke-width="1.3"/>
<text x="328.0" y="384.7" font-family="Liberation Sans, Arial, sans-serif" font-size="14.2">1.5</text>
<path d="M315.0,423.5H321.5" stroke="#000" stroke-width="1.3"/>
<text x="328.0" y="428.6" font-family="Liberation Sans, Arial, sans-serif" font-size="14.2">1.2</text>
<path d="M315.0,467.4H321.5" stroke="#000" stroke-width="1.3"/>
<text x="328.0" y="472.5" font-family="Liberation Sans, Arial, sans-serif" font-size="14.2">0.9</text>
<path d="M315.0,511.4H321.5" stroke="#000" stroke-width="1.3"/>
<text x="328.0" y="516.5" font-family="Liberation Sans, Arial, sans-serif" font-size="14.2">0.6</text>
<clipPath id="cib"><rect x="378.4" y="329.8" width="167.1" height="156.7"/></clipPath>
<g clip-path="url(#cib)">
<rect x="378.4" y="329.8" width="167.1" height="156.7" fill="#2dffc3"/>
<path d="M377.4,327.8 424.0,327.8 400.4,347.6 376.4,365.3 376.4,327.8 377.4,327.8Z" fill="#4bffa5" stroke="#4bffa5" stroke-width="0.6"/>
<path d="M423.4,328.4 424.0,327.8 465.6,327.8 453.4,338.3 437.4,353.8 425.6,363.8 416.4,371.0 403.4,380.0 390.4,389.7 376.4,399.2 376.4,365.3 400.4,347.6 423.4,328.4Z" fill="#6eff82" stroke="#6eff82" stroke-width="0.6"/>
<path d="M465.4,327.9 502.1,327.8 489.4,340.6 482.7,346.8 446.5,376.8 433.4,386.7 417.4,397.3 376.4,428.7 376.4,399.2 390.4,389.7 403.4,380.0 416.4,371.0 425.6,363.8 437.4,353.8 453.4,338.3 465.4,327.9Z" fill="#a0ff4e" stroke="#a0ff4e" stroke-width="0.6"/>
<path d="M501.4,328.5 502.1,327.8 533.4,327.8 526.4,337.7 521.4,344.1 516.2,349.8 509.5,355.8 496.7,365.8 467.4,387.0 447.4,403.4 429.4,415.6 421.4,421.5 387.4,450.1 376.4,458.8 376.4,428.7 417.4,397.3 433.4,386.7 446.5,376.8 482.7,346.8 489.4,340.6 501.4,328.5Z" fill="#d7ff1e" stroke="#d7ff1e" stroke-width="0.6"/>
<path d="M533.4,327.8 547.4,327.8 547.4,344.1 537.8,356.8 529.4,366.3 520.4,374.2 479.7,405.8 461.4,421.0 434.4,440.8 401.3,467.8 376.4,486.4 376.4,458.8 387.4,450.1 421.4,421.5 429.4,415.6 447.4,403.4 467.4,387.0 496.7,365.8 509.5,355.8 516.2,349.8 521.4,344.1 526.4,337.7 533.4,327.8Z" fill="#ffde00" stroke="#ffde00" stroke-width="0.6"/>
<path d="M547.4,344.1 547.4,373.7 541.7,380.8 536.2,386.8 524.8,397.8 514.4,408.8 504.7,417.8 499.4,422.0 479.4,435.9 455.4,454.3 430.4,471.5 407.4,488.8 376.4,488.8 376.4,486.4 401.3,467.8 434.4,440.8 460.4,421.8 479.4,406.0 523.4,371.8 528.9,366.8 534.4,360.8 540.2,353.8 547.4,344.1Z" fill="#ffb000" stroke="#ffb000" stroke-width="0.6"/>
<path d="M547.4,373.7 547.4,404.4 538.9,415.8 532.4,423.8 528.4,428.0 522.4,433.2 512.4,440.4 495.4,451.4 475.4,466.5 463.3,474.8 455.1,479.8 444.0,485.8 439.5,488.8 407.4,488.8 429.4,472.2 453.4,455.8 480.4,435.2 498.4,422.7 503.5,418.8 513.4,409.8 524.8,397.8 535.4,387.6 541.4,381.1 547.4,373.7Z" fill="#ff8600" stroke="#ff8600" stroke-width="0.6"/>
<path d="M547.4,404.4 547.4,430.8 537.4,441.5 528.4,450.0 521.4,457.5 518.4,460.2 477.3,488.8 439.5,488.8 444.0,485.8 455.1,479.8 463.3,474.8 475.4,466.5 495.4,451.4 511.4,441.0 521.4,434.0 528.4,428.0 532.4,423.8 538.9,415.8 547.4,404.4Z" fill="#ff5c00" stroke="#ff5c00" stroke-width="0.6"/>
<path d="M547.4,430.8 547.4,452.6 538.4,461.3 526.4,473.9 517.4,481.9 508.8,488.8 477.3,488.8 503.4,470.8 519.4,459.4 528.6,449.8 537.4,441.5 547.4,430.8Z" fill="#ff2a00" stroke="#ff2a00" stroke-width="0.6"/>
<path d="M547.4,452.6 547.4,476.4 536.2,488.8 508.8,488.8 524.4,475.9 539.4,460.2 547.4,452.6Z" fill="#e40000" stroke="#e40000" stroke-width="0.6"/>
<path d="M547.4,476.4 547.4,488.8 536.2,488.8 547.4,476.4Z" fill="#ac0000" stroke="#ac0000" stroke-width="0.6"/>
<mask id="mib" maskUnits="userSpaceOnUse" x="0" y="0" width="550" height="617"><rect x="0" y="0" width="550" height="617" fill="#fff"/><rect x="448.9" y="400.0" width="25.2" height="12.0" fill="#000" transform="rotate(-35.0 461.5 406.0)"/><rect x="484.2" y="410.4" width="25.2" height="12.0" fill="#000" transform="rotate(-33.0 496.8 416.4)"/><rect x="482.6" y="445.5" width="25.2" height="12.0" fill="#000" transform="rotate(-35.0 495.2 451.5)"/><rect x="518.6" y="446.4" width="25.2" height="12.0" fill="#000" transform="rotate(-45.0 531.2 452.4)"/><rect x="524.4" y="467.6" width="25.2" height="12.0" fill="#000" transform="rotate(-50.0 537.0 473.6)"/></mask>
<g mask="url(#mib)" fill="none" stroke="#000" stroke-width="2.30" stroke-linejoin="round">
<path d="M376.4,355.6 392.4,344.0 412.4,327.8"/>
<path d="M376.4,399.2 390.4,389.7 403.7,379.8 416.7,370.8 422.4,366.3 435.4,355.5 451.4,340.2 458.4,333.8 465.6,327.8"/>
<path d="M376.4,436.2 421.5,400.8 436.4,391.3 442.4,386.8 483.9,353.8 491.4,347.4 510.8,327.8"/>
<path d="M376.4,473.0 393.8,459.8 426.5,431.8 438.4,423.2 451.0,414.8 462.4,405.6 467.4,400.6 470.4,398.0 506.4,372.1 521.1,360.8 527.0,354.8 531.9,348.8 546.3,327.8"/>
<path d="M399.0,488.8 415.4,476.7 429.6,465.8 451.4,450.2 470.1,435.8 498.5,414.8 514.6,399.8 521.6,392.8 533.4,382.5 538.4,377.3 547.4,366.3"/>
<path d="M439.5,488.8 443.4,486.2 454.4,480.2 463.4,474.7 475.4,466.5 496.4,450.7 517.6,436.8 521.7,433.8 528.6,427.8 531.5,424.8 539.4,415.2 547.4,404.4"/>
<path d="M485.6,488.8 493.8,482.8 505.4,475.1 522.4,462.4 524.4,460.5 531.0,452.8 539.4,444.8 547.4,436.2"/>
<path d="M522.4,488.8 530.2,481.8 537.8,472.8 547.4,463.4"/>
</g>
<text x="461.5" y="411.4" font-family="Liberation Sans, Arial, sans-serif" font-size="15.0" text-anchor="middle" transform="rotate(-35.0 461.5 406.0)">1.4</text>
<text x="496.8" y="421.8" font-family="Liberation Sans, Arial, sans-serif" font-size="15.0" text-anchor="middle" transform="rotate(-33.0 496.8 416.4)">1.5</text>
<text x="495.2" y="456.9" font-family="Liberation Sans, Arial, sans-serif" font-size="15.0" text-anchor="middle" transform="rotate(-35.0 495.2 451.5)">1.6</text>
<text x="531.2" y="457.8" font-family="Liberation Sans, Arial, sans-serif" font-size="15.0" text-anchor="middle" transform="rotate(-45.0 531.2 452.4)">1.7</text>
<text x="537.0" y="479.0" font-family="Liberation Sans, Arial, sans-serif" font-size="15.0" text-anchor="middle" transform="rotate(-50.0 537.0 473.6)">1.8</text>
</g>
<rect x="378.4" y="329.8" width="167.1" height="156.7" fill="none" stroke="#000" stroke-width="1.6" stroke-dasharray="8.7 3.9" stroke-dashoffset="0"/>
<path d="M420.0,469.0H490.0" stroke="#4472c4" stroke-width="2.1" fill="none"/>
<path d="M496.0,469.0L487.0,464.4L487.0,473.6Z" fill="#4472c4"/>
<path d="M278.7,484.2L365.7,420.5" stroke="#000" stroke-width="1.8" fill="none"/>
<path d="M377.0,412.2L367.8,426.7L360.4,416.6Z" fill="#000"/>
<text x="468.6" y="511.2" font-family="Liberation Sans, Arial, sans-serif" font-size="18.2" text-anchor="middle">Increasing nozzle</text>
<text x="468.6" y="532.3" font-family="Liberation Sans, Arial, sans-serif" font-size="18.2" text-anchor="middle">diameter</text>
<text x="274.3" y="609.5" font-family="Liberation Serif, Times New Roman, serif" font-size="15.5" text-anchor="middle">(<tspan font-weight="bold">b</tspan>)</text>
</svg>
</body></html>
